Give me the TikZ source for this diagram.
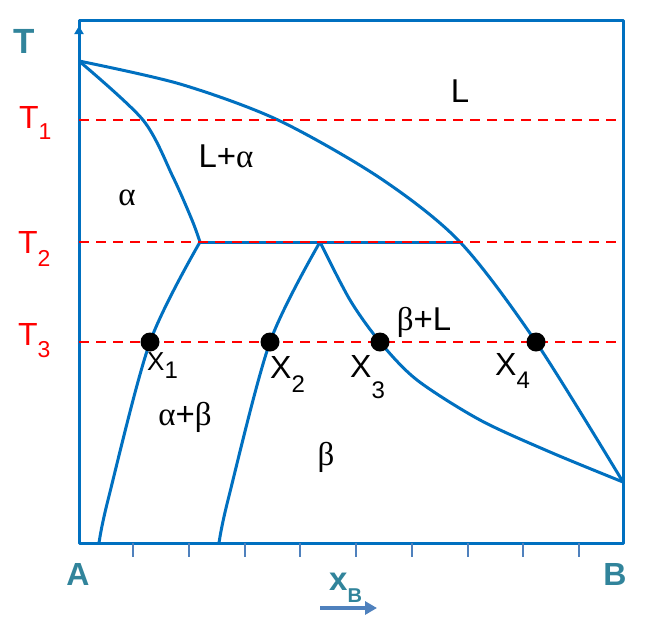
\documentclass[tikz,border=0pt]{standalone}
\usepackage{fontspec}
\setmainfont{Liberation Sans}
\newfontfamily\greek{Liberation Serif}
\usetikzlibrary{arrows.meta}
\usetikzlibrary{positioning}
\definecolor{phaseblue}{RGB}{0,112,192}
\definecolor{axisteal}{RGB}{49,132,155}
\definecolor{tickblue}{RGB}{79,129,189}
\tikzstyle{boundary} = [draw=phaseblue, line width=3pt, line join=round]
\tikzstyle{isotherm} = [draw=red, line width=2pt, dash pattern=on 10pt off 7pt]
\tikzstyle{tickline} = [draw=tickblue, line width=2pt]
\tikzstyle{dot} = [circle, fill=black, inner sep=0pt, minimum size=19pt]
\tikzstyle{region} = [font=\fontsize{33}{36}\selectfont, anchor=base, inner sep=0pt]
\tikzstyle{temp} = [text=red, font=\fontsize{32}{34}\selectfont, anchor=base west, inner sep=0pt]
\tikzstyle{comp} = [text=axisteal, font=\bfseries\fontsize{32}{34}\selectfont, anchor=base, inner sep=0pt]
\tikzstyle{xlabel} = [font=\fontsize{32}{34}\selectfont, anchor=base west, inner sep=0pt]
\newcommand{\tsub}[2]{T\raisebox{-#2pt}{\fontsize{23}{23}\selectfont #1}}
\newcommand{\xsub}[2]{X\raisebox{-#2pt}{\fontsize{24}{24}\selectfont #1}}

\begin{document}
\begin{tikzpicture}[x=1pt, y=-1pt]
    \useasboundingbox (0,0) rectangle (663,630);
    % Key points of the diagram
    \coordinate (Atop) at (79,61);
    \coordinate (eut) at (200,242);
    \coordinate (peri) at (320,242);
    \coordinate (liqT2) at (460,242);
    \coordinate (Bend) at (623,482);
    \coordinate (a0) at (99,543);
    \coordinate (b0) at (219,543);
    \coordinate (c1) at (150,342);
    \coordinate (c2) at (270,342);
    \coordinate (c3) at (380,342);
    \coordinate (c4) at (536,342);
    % Draw frame and axes
    \draw[boundary] (79,20) rectangle (623,543);
    \draw[boundary, -{Triangle[length=8pt, width=9pt]}] (79,543) -- (79,26);
    \foreach \i in {1,...,9}
        \draw[tickline] ({77.25+55.75*\i},543) -- ++(0,14);
    % Draw phase boundaries
    \draw[boundary] plot[smooth] coordinates {(Atop) (180,84) (278,120) (380,178) (liqT2) (c4) (Bend)};
    \draw[boundary] plot[smooth] coordinates {(Atop) (143,120) (173,177) (192,220) (eut)};
    \draw[boundary] plot[smooth] coordinates {(eut) (c1) (108,500) (a0)};
    \draw[boundary] plot[smooth] coordinates {(peri) (c2) (228,500) (b0)};
    \draw[boundary] plot[smooth] coordinates {(peri) (350,300) (c3) (417,380) (480,420) (550,452) (Bend)};
    \draw[boundary] (eut) -- (liqT2);
    % Draw isotherms
    \draw[isotherm] (79,120) -- (623,120);
    \draw[isotherm] (79,242) -- (623,242);
    \draw[isotherm] (79,342) -- (623,342);
    % Place nodes
    \node[dot] (x1) at (c1) {};
    \node[dot] (x2) at (c2) {};
    \node[dot] (x3) at (c3) {};
    \node[dot] (x4) at (c4) {};
    \node[xlabel, font=\fontsize{26}{28}\selectfont] (lx1) at (147,370) {\xsub{1}{8}};
    \node[xlabel] (lx2) at (270,378) {\xsub{2}{14}};
    \node[xlabel] (lx3) at (350,377) {\xsub{3}{21}};
    \node[xlabel] (lx4) at (495,375) {\xsub{4}{13}};
    \node[region] (liq) at (460,102) {L};
    \node[region] (liqalpha) at (226,167) {L+{\greek α}};
    \node[region] (alpha) at (127,205) {\greek α};
    \node[region] (betaliq) at (424,330) {{\greek β}+L};
    \node[region] (alphabeta) at (185,425) {{\greek α}+{\greek β}};
    \node[region] (beta) at (326,465) {\greek β};
    \node[temp] (t1) at (19,128) {\tsub{1}{11}};
    \node[temp] (t2) at (18,253) {\tsub{2}{13}};
    \node[temp] (t3) at (18,345) {\tsub{3}{12}};
    \node[comp, font=\bfseries\fontsize{35}{36}\selectfont] (tax) at (24,53) {T};
    \node[comp] (compA) at (78,585) {A};
    \node[comp] (compB) at (615,585) {B};
    \node[comp, anchor=base west, font=\bfseries\fontsize{33}{34}\selectfont] (xb) at (329,590)
        {x\raisebox{-12pt}{\fontsize{20}{20}\selectfont B}};
    % Draw composition arrow
    \coordinate (arrS) at (320,608);
    \coordinate (arrE) at (377,608);
    \draw[tickblue, line width=4pt, -{Triangle[length=12pt, width=13pt]}] (arrS) -- (arrE);
\end{tikzpicture}
\end{document}
